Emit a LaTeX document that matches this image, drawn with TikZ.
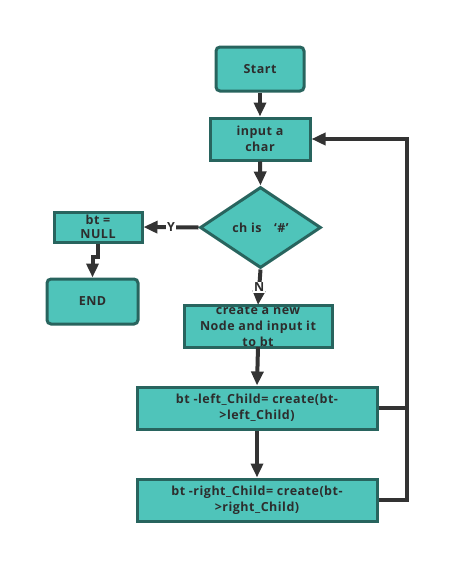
\documentclass[tikz,border=0pt]{standalone}
\usepackage{fontspec}
\setmainfont{Open Sans}[BoldFont={Open Sans Bold},LetterSpace=4]
\usetikzlibrary{arrows.meta,shapes.geometric}
\definecolor{boxfill}{RGB}{79,196,186}
\definecolor{boxline}{RGB}{40,100,94}
\definecolor{arr}{RGB}{51,51,51}
\definecolor{txt}{RGB}{45,45,45}
\tikzset{
  box/.style={draw=boxline,fill=boxfill,line width=3pt,inner sep=1pt,align=center,
    font=\fontsize{12.5}{16}\selectfont\bfseries,text=txt},
  rbox/.style={box,rounded corners=4pt},
  conn/.style={draw=arr,line width=4pt,-{Triangle[width=12pt,length=14pt]}},
  plainconn/.style={draw=arr,line width=4pt},
  lbl/.style={font=\fontsize{12.5}{14}\selectfont\bfseries,text=txt,fill=white,inner sep=1pt}
}
\begin{document}
\begin{tikzpicture}[x=1pt,y=-1pt]
\useasboundingbox (0,0) rectangle (469,582);
\node[rbox,minimum width=88pt,minimum height=44pt] (start) at (260,69) {Start};
\node[box,minimum width=100pt,minimum height=42pt] (input) at (260,139) {input a\\char};
\node[box,diamond,minimum width=121pt,minimum height=81pt,inner sep=0pt] (dec) at (260.5,227.5) {ch is\quad‘\#’};
\node[box,minimum width=88pt,minimum height=30pt,inner sep=0pt,font=\fontsize{12.5}{14}\selectfont\bfseries] (null) at (98,227) {bt =\\NULL};
\node[rbox,minimum width=91pt,minimum height=45pt] (end) at (92.5,301.5) {END};
\node[box,draw=none,outer sep=0pt,minimum width=148pt,minimum height=42pt] (create) at (258,326) {};
\node[font=\fontsize{12.5}{16}\selectfont\bfseries,text=txt,align=center,inner sep=0pt] (createtxt) at (258,326) {create a new\\Node and input it\\to bt};
\draw[draw=boxline,line width=3pt] (create.north west) rectangle (create.south east);
\node[box,minimum width=240pt,minimum height=42pt] (left) at (257,408) {bt -left\_Child= create(bt-\\>left\_Child)};
\node[box,minimum width=240pt,minimum height=42pt] (right) at (257,500) {bt -right\_Child= create(bt-\\>right\_Child)};
\coordinate (rail) at (407,139);
\draw[conn] (start.south) -- (input.north);
\draw[conn] (input.south) -- (dec.north);
\draw[conn] (dec.west) -- node[lbl] {Y} (null.east);
\draw[conn] (null.south) -- ++(0,13) -| (end.north);
\draw[conn] (dec.south) -- node[lbl,pos=0.5] {N} (create.north);
\draw[conn] (create.south) -- (left.north);
\draw[conn] (left.south) -- (right.north);
\draw[plainconn] (left.east) -- (left.east -| rail);
\draw[conn] (right.east) -- (right.east -| rail) -- (rail) -- (input.east);
\end{tikzpicture}
\end{document}
